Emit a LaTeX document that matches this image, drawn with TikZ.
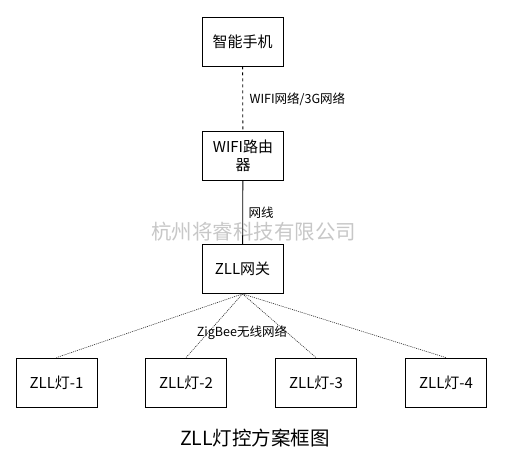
\documentclass[tikz,border=0pt]{standalone}
\usepackage{fontspec}
\setmainfont{Noto Sans CJK SC}
\begin{document}
\begin{tikzpicture}[x=1pt,y=-1pt,
  box/.style={shape=rectangle,draw=black,line width=0.8pt,minimum width=81pt,minimum height=49pt,inner sep=2pt,font=\fontsize{15}{18}\selectfont,align=center},
  lbl/.style={font=\fontsize{12.5}{15}\selectfont},
  wifi/.style={draw=black,line width=0.8pt,dashed},
  zig/.style={draw=black!85,line width=0.6pt,dash pattern=on 1pt off 1pt}]
  \useasboundingbox (0,0) rectangle (506,468);
  \node[box] (phone) at (242.5,41.5) {智能手机};
  \node[box] (router) at (243,155.5) {WIFI路由\\器};
  \node[box] (gw) at (242.5,269) {ZLL网关};
  \node[box] (l1) at (56.5,382.5) {ZLL灯-1};
  \node[box] (l2) at (186,382.5) {ZLL灯-2};
  \node[box] (l3) at (316,382.5) {ZLL灯-3};
  \node[box] (l4) at (446,382.5) {ZLL灯-4};
  \node[lbl,anchor=west] (wifiL) at (246,99) {WIFI网络/3G网络};
  \node[lbl,anchor=west] (lanL) at (245,213) {网线};
  \node[text=black!22,font=\fontsize{20.5}{24}\selectfont] (mark) at (253.5,232) {杭州将睿科技有限公司};
  \node[lbl] (zigL) at (242,333) {ZigBee无线网络};
  \node[font=\fontsize{19.5}{23}\selectfont] (title) at (255,438) {ZLL灯控方案框图};
  \path[wifi] (phone) edge (router);
  \path[draw=black,line width=0.8pt] (router) edge (gw);
  \path[zig] (gw.south) edge (l1.north);
  \path[zig] (gw.south) edge (l2.north);
  \path[zig] (gw.south) edge (l3.north);
  \path[zig] (gw.south) edge (l4.north);
\end{tikzpicture}
\end{document}
